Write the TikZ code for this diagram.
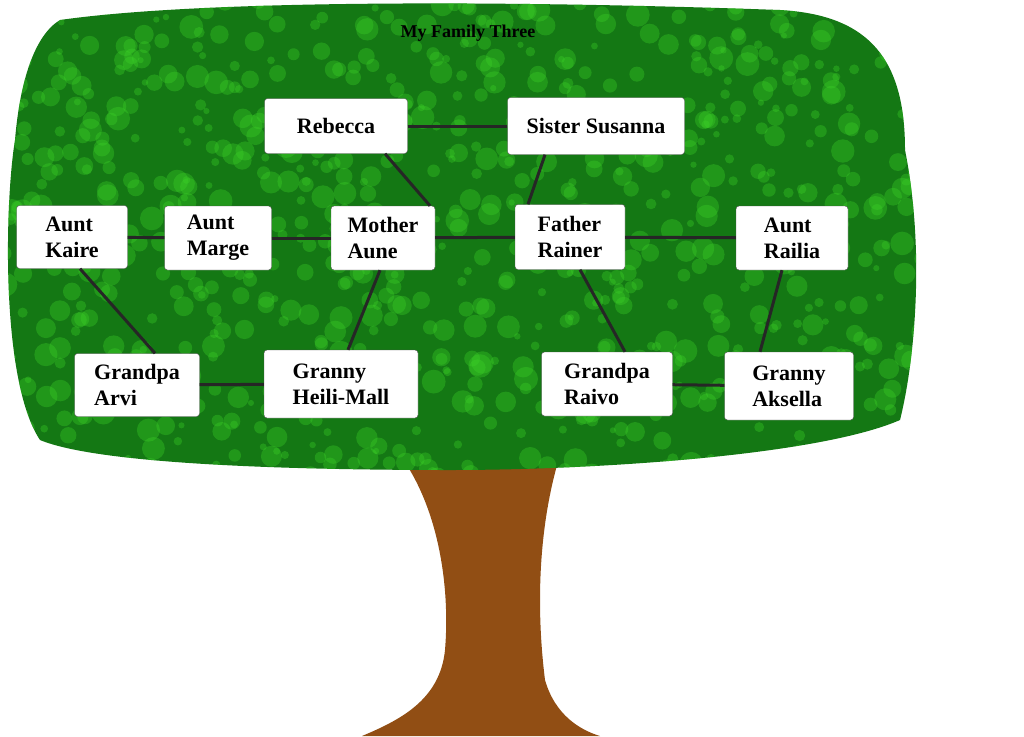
\documentclass[tikz,border=0pt]{standalone}
\usepackage{fontspec}
\setmainfont{Liberation Serif}
\begin{document}
\begin{tikzpicture}[x=1pt,y=-1pt,
    person/.style={draw=black!70,fill=white,rounded corners=3pt,align=left,
      font=\fontsize{22}{26}\selectfont\bfseries,inner sep=0pt},
    link/.style={line width=3pt,black!85}]
    %colores
    \definecolor{leaf}{RGB}{20,120,20}
    \definecolor{leaflight}{RGB}{60,210,40}
    \definecolor{bark}{RGB}{145,78,20}

    \useasboundingbox (0,0) rectangle (1024,736);

    % Tronco
    \fill[bark] (400,455) -- (560,455) .. controls (540,520) and (535,600) .. (545,680)
        .. controls (555,715) and (580,730) .. (600,736) -- (362,736)
        .. controls (400,720) and (440,700) .. (445,650)
        .. controls (450,590) and (440,510) .. (400,455) -- cycle;

    % Copa
    \begin{scope}
    \path[clip] (60,20) .. controls (200,0) and (500,0) .. (780,10)
        .. controls (870,15) and (905,60) .. (905,150)
        .. controls (925,250) and (915,360) .. (900,420)
        .. controls (820,455) and (600,470) .. (450,470)
        .. controls (300,470) and (100,465) .. (40,440)
        .. controls (0,380) and (5,200) .. (15,140)
        .. controls (20,80) and (35,35) .. (60,20) -- cycle;
    \fill[leaf] (0,0) rectangle (1024,480);
    \foreach \i in {1,...,900}
        \fill[leaflight,opacity=0.35] (rnd*930,rnd*480) circle (3+rnd*9);
    \end{scope}

    % Titulo
    \node[font=\fontsize{18}{21}\selectfont\bfseries] (title) at (468,33) {My Family Three};

    % Personas
    \node[person,minimum width=143,minimum height=55] (rebecca) at (336,126) {Rebecca};
    \node[person,minimum width=177,minimum height=57] (susanna) at (596,126) {Sister Susanna};
    \node[person,minimum width=111,minimum height=63] (kaire) at (72,237) {Aunt\\Kaire};
    \node[person,minimum width=107,minimum height=64] (marge) at (218,238) {Aunt\\Marge};
    \node[person,minimum width=104,minimum height=64] (aune) at (383,238) {Mother\\Aune};
    \node[person,minimum width=110,minimum height=65] (rainer) at (570,237) {Father\\Rainer};
    \node[person,minimum width=112,minimum height=64] (railia) at (792,238) {Aunt\\Railia};
    \node[person,minimum width=125,minimum height=63] (arvi) at (137,385) {Grandpa\\Arvi};
    \node[person,minimum width=154,minimum height=68] (heili) at (341,384) {Granny\\Heili-Mall};
    \node[person,minimum width=131,minimum height=64] (raivo) at (607,384) {Grandpa\\Raivo};
    \node[person,minimum width=129,minimum height=68] (aksella) at (789,386) {Granny\\Aksella};

    % Lineas
    \draw[link] (rebecca) -- (susanna);
    \draw[link] ([xshift=49pt]rebecca.south) -- ([xshift=47pt]aune.north);
    \draw[link] ([xshift=-51pt]susanna.south) -- ([xshift=-42pt]rainer.north);
    \draw[link] (kaire) -- (marge);
    \draw[link] (marge) -- (aune);
    \draw[link] (aune) -- (rainer);
    \draw[link] (rainer) -- (railia);
    \draw[link] ([xshift=8pt]kaire.south) -- ([xshift=18pt]arvi.north);
    \draw[link] ([xshift=-3pt]aune.south) -- ([xshift=7pt]heili.north);
    \draw[link] ([xshift=10pt]rainer.south) -- ([xshift=18pt]raivo.north);
    \draw[link] ([xshift=-10pt]railia.south) -- ([xshift=-29pt]aksella.north);
    \draw[link] (arvi) -- (heili);
    \draw[link] (raivo) -- (aksella);
\end{tikzpicture}
\end{document}
